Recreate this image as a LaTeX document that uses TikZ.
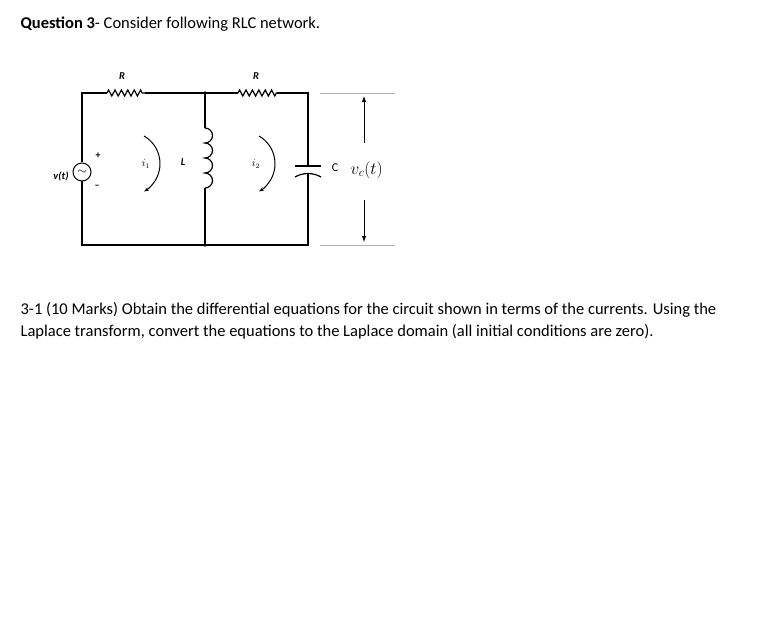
\documentclass[tikz,border=0pt]{standalone}
\usepackage{fontspec}
\setmainfont{Carlito}
\usetikzlibrary{decorations.pathmorphing,arrows.meta}
\begin{document}
\begin{tikzpicture}[x=1pt,y=-1pt,line width=1.2pt,
  txt/.style={anchor=west,inner sep=0pt,font=\fontsize{16.5}{19}\selectfont},
  lbl/.style={inner sep=0pt,font=\fontsize{10.5}{11}\selectfont\bfseries\itshape},
  res/.style={decorate,decoration={zigzag,segment length=6.4pt,amplitude=3pt}},
  dim/.style={draw=gray!60,line width=0.6pt}]
\useasboundingbox (0,0) rectangle (759,636);
\node[txt] (q) at (20,24) {\textbf{Question 3}- Consider following RLC network.};
\node[txt] (p1) at (20,310) {3-1 (10 Marks) Obtain the differential equations for the circuit shown in terms of the currents. Using the};
\node[txt] (p2) at (20,332) {Laplace transform, convert the equations to the Laplace domain (all initial conditions are zero).};
% nodes
\coordinate (tl) at (82,93); \coordinate (bl) at (82,245);
\coordinate (tm) at (205,93); \coordinate (bm) at (205,245);
\coordinate (tr) at (308,93); \coordinate (br) at (308,245);
\node[circle,draw,line width=1pt,minimum size=18pt,inner sep=0pt] (src) at (82,172) {\fontsize{12}{12}\selectfont$\sim$};
\draw (src.north) -- (tl) -- (107,93);
\draw[res] (107,93) -- (145,93);
\draw (145,93) -- (tm);
\draw (tm) -- (238,93);
\draw[res] (238,93) -- (277,93);
\draw (277,93) -- (tr) -- (308,166);
\draw (295,166) -- (321,166);
\draw (295,177) arc (-120:-60:26);
\draw (308,173.5) -- (br) -- (bl) -- (src.south);
\draw[line width=1.5pt] (tm) -- (205,128);
\draw[line width=1.5pt] (205,188) -- (bm);
\draw (205,128) \foreach \k in {0,...,3} { arc (-90:90:7.5) };
\fill (tm) circle (1.8pt); \fill (bm) circle (1.8pt);
\node[lbl] (r1) at (122,76) {R};
\node[lbl] (r2) at (256,76) {R};
\node[lbl] (lL) at (183,162) {L};
\node[lbl] (vt) at (61,176) {v(t)};
\node[lbl,font=\fontsize{10}{10}\selectfont\bfseries] (pl) at (98,156) {+};
\node[lbl,font=\fontsize{10}{10}\selectfont\bfseries] (mi) at (97,187) {--};
\node[lbl] (i1) at (146,164) {$i_1$};
\node[lbl] (i2) at (256,164) {$i_2$};
\node[inner sep=0pt,font=\fontsize{12}{12}\selectfont] (cl) at (335,168) {C};
\node[inner sep=0pt,anchor=west,font=\fontsize{17}{18}\selectfont] (vc) at (350,170) {$v_c(t)$};
\draw[line width=1pt,-{Stealth[length=5pt]}] (144,136) arc (-60:60:32);
\draw[line width=1pt,-{Stealth[length=5pt]}] (259,136) arc (-60:60:32);
\coordinate (d1) at (320,93); \coordinate (d2) at (395,93);
\coordinate (d3) at (320,245); \coordinate (d4) at (395,245);
\draw[dim] (d1) -- (d2); \draw[dim] (d3) -- (d4);
\draw[line width=0.8pt,-{Latex[length=6pt]}] (364,143) -- (364,96);
\draw[line width=0.8pt,-{Latex[length=6pt]}] (364,200) -- (364,242);
\end{tikzpicture}
\end{document}
